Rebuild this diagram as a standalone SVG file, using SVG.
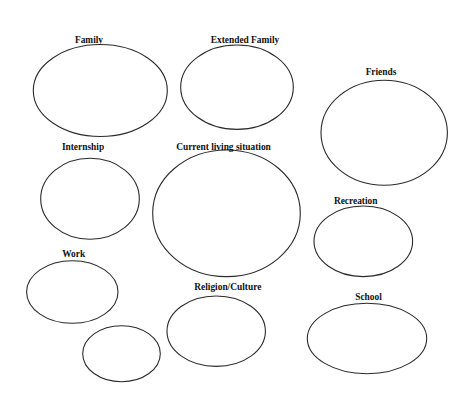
<svg xmlns="http://www.w3.org/2000/svg" width="474" height="405" viewBox="0 0 474 405">
<style>
.c{fill:none;stroke:#2a2a2a;stroke-width:1.1}
.t{font-family:"Liberation Serif","Times New Roman",serif;font-weight:bold;font-size:9.4px;fill:#111;text-anchor:middle}
</style>
<rect width="474" height="405" fill="#fff"/>
<g id="family"><ellipse class="c" cx="100.3" cy="90.5" rx="67" ry="46"/><text class="t" x="89" y="43">Family</text></g>
<g id="extended-family"><ellipse class="c" cx="237" cy="87.2" rx="56.3" ry="42.2"/><text class="t" x="245" y="43">Extended Family</text></g>
<g id="friends"><ellipse class="c" cx="384.2" cy="132.8" rx="63.2" ry="52.5"/><text class="t" x="381" y="75">Friends</text></g>
<g id="internship"><ellipse class="c" cx="90" cy="198.8" rx="49.3" ry="40.5"/><text class="t" x="83" y="150">Internship</text></g>
<g id="current-living"><ellipse class="c" cx="226.5" cy="213.3" rx="73.8" ry="63.3"/><text class="t" x="223.5" y="150">Current living situation</text></g>
<g id="recreation"><ellipse class="c" cx="363.3" cy="241.3" rx="49.3" ry="35.3"/><text class="t" x="355.7" y="204">Recreation</text></g>
<g id="work"><ellipse class="c" cx="72.3" cy="292" rx="45.7" ry="31.3"/><text class="t" x="73.7" y="257">Work</text></g>
<g id="unlabelled"><ellipse class="c" cx="121.5" cy="353.7" rx="38.8" ry="28"/></g>
<g id="religion"><ellipse class="c" cx="216.2" cy="331.2" rx="49.2" ry="35.2"/><text class="t" x="227.8" y="290">Religion/Culture</text></g>
<g id="school"><ellipse class="c" cx="367" cy="338.5" rx="59.7" ry="35.2"/><text class="t" x="368.5" y="300">School</text></g>
<g id="connectors"/>
</svg>
